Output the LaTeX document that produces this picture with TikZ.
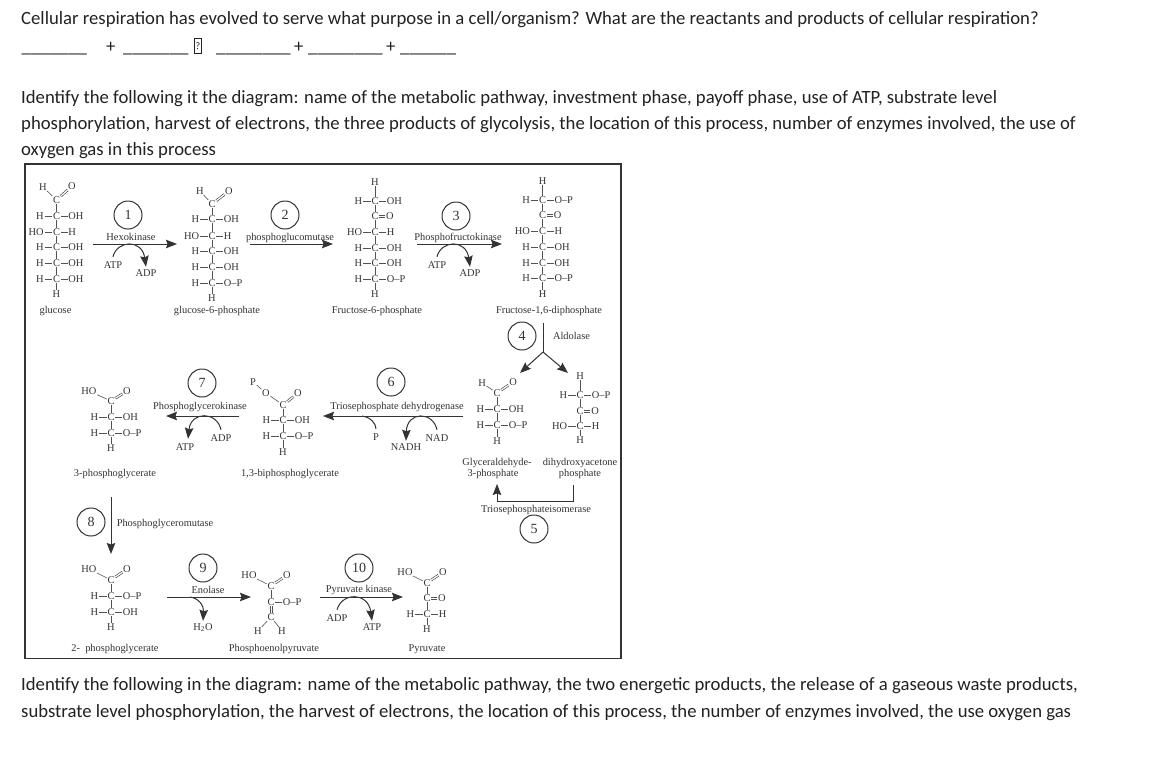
\documentclass[tikz,border=0pt]{standalone}
\usepackage{fontspec}
\setmainfont{Liberation Serif}
\newfontfamily\carl{Carlito}
\usetikzlibrary{arrows.meta}
\definecolor{ink}{HTML}{333333}
\definecolor{para}{HTML}{222222}
\tikzset{
  atom/.style={inner sep=0.6pt,text height=6.4pt,text depth=0pt,text=ink,font=\fontsize{10.4}{10.4}\selectfont},
  lab/.style={inner sep=0pt,text height=9pt,text depth=1pt,text=ink,font=\fontsize{10.4}{10.4}\selectfont},
  para/.style={anchor=west,inner sep=0pt,text height=14pt,text depth=2pt,text=para,font=\carl\fontsize{18.7}{18.7}\selectfont},
  stepno/.style={circle,draw=ink,line width=1pt,minimum size=28pt,inner sep=0pt,text=ink,font=\fontsize{14}{14}\selectfont},
  bond/.style={draw=ink!85,line width=0.6pt},
  dbond/.style={draw=ink,line width=0.6pt,double=white,double distance=1.3pt},
  main/.style={draw=ink,line width=1pt,-{Stealth[length=11pt,width=8.5pt,inset=1.5pt]}},
  plain/.style={draw=ink,line width=1pt},
  curv/.style={draw=ink,line width=1pt,-{Stealth[length=11pt,width=8.5pt,inset=1.5pt]}},
}
\newcommand\molrows[3]{%
  \foreach \yy/\ll/\rr [count=\i] in {#3} {
    \node[atom] (#1c\i) at (#2,\yy) {C};
    \if\relax\detokenize\expandafter{\ll}\relax\else
      \node[atom,anchor=east] (#1l\i) at (#2-12,\yy) {\ll};
      \draw[bond] (#1l\i) -- (#1c\i);
    \fi
    \if\relax\detokenize\expandafter{\rr}\relax\else
      \node[atom,anchor=west] (#1r\i) at (#2+11,\yy) {\rr};
      \draw[bond] (#1c\i) -- (#1r\i);
    \fi
    \ifnum\i>1
      \pgfmathtruncatemacro\pv{\i-1}
      \draw[bond] (#1c\pv) -- (#1c\i);
    \fi
  }}
% end atom on a bond: name, x, y, text, neighbour
\newcommand\tip[5]{\node[atom] (#1) at (#2,#3) {#4}; \draw[bond] (#5) -- (#1);}
% double-bonded oxygen, slanted
\newcommand\oxy[4]{\node[atom] (#1) at (#2,#3) {O}; \draw[dbond] (#4) -- (#1);}
% double-bonded oxygen, level with its carbon
\newcommand\oxyh[4]{\node[atom] (#1) at (#2,#3) {O};
  \draw[bond] ([yshift=1.1pt]#4.east) -- ([yshift=1.1pt]#1.west);
  \draw[bond] ([yshift=-1.1pt]#4.east) -- ([yshift=-1.1pt]#1.west);}
\newcommand\lab[4]{\node[lab] (#1) at (#2,#3) {#4};}
\newcommand\para[3]{\node[para] (#1) at (21,#2) {#3};}
\begin{document}
\begin{tikzpicture}[x=1pt,y=-1pt]
\useasboundingbox (0,0) rectangle (1162,772);
\fill[white] (0,0) rectangle (1162,772);

% question text
\para{t1}{18}{Cellular respiration has evolved to serve what purpose in a cell/organism? What are the reactants and products of cellular respiration?}
\para{t3}{97}{Identify the following it the diagram: name of the metabolic pathway, investment phase, payoff phase, use of ATP, substrate level}
\para{t4}{123}{phosphorylation, harvest of electrons, the three products of glycolysis, the location of this process, number of enzymes involved, the use of}
\para{t5}{149}{oxygen gas in this process}
\para{t6}{684}{Identify the following in the diagram: name of the metabolic pathway, the two energetic products, the release of a gaseous waste products,}
\para{t7}{711}{substrate level phosphorylation, the harvest of electrons, the location of this process, the number of enzymes involved, the use oxygen gas}

% blanks
\node[para] (b1) at (21.5,46) {\_\_\_\_\_\_\_};
\node[para] (p1) at (106,46) {+};
\node[para] (b2) at (123,46) {\_\_\_\_\_\_\_};
\node[draw=para,line width=0.6pt,inner sep=0.3pt,minimum width=7pt,minimum height=15pt,text=para,font=\carl\fontsize{10}{10}\selectfont] (qm) at (198,46) {?};
\node[para] (b3) at (216,46) {\_\_\_\_\_\_\_\_};
\node[para] (p2) at (294,46) {+};
\node[para] (b4) at (308,46) {\_\_\_\_\_\_\_\_};
\node[para] (p3) at (386,46) {+};
\node[para] (b5) at (400,46) {\_\_\_\_\_\_};

% frame
\draw[ink,line width=1.5pt] (25,164) rectangle (621,658.5);

% step circles
\node[stepno] (s1) at (128,215) {1};
\node[stepno] (s2) at (285,215) {2};
\node[stepno] (s3) at (456,216) {3};
\node[stepno] (s4) at (522,336) {4};
\node[stepno] (s5) at (534,529) {5};
\node[stepno] (s6) at (391,382) {6};
\node[stepno] (s7) at (202,383) {7};
\node[stepno] (s8) at (91,522) {8};
\node[stepno] (s9) at (203,568) {9};
\node[stepno] (s10) at (359,568) {10};

% glucose
\molrows{a}{56.5}{200//,216/H/OH,232/HO/H,247/H/OH,263/H/OH,279/H/OH}
\tip{aH}{56.5}{294}{H}{ac6}
\tip{aH2}{43}{187}{H}{ac1}
\oxy{aO}{72}{186}{ac1}
\lab{aN}{55.5}{309}{glucose}

% glucose-6-phosphate
\molrows{b}{212}{204//,219/H/OH,236/HO/H,251/H/OH,267/H/OH,283/H/O–P}
\tip{bH}{212}{298}{H}{bc6}
\tip{bH2}{200}{191}{H}{bc1}
\oxy{bO}{229}{191}{bc1}
\lab{bN}{217}{309}{glucose-6-phosphate}

% fructose-6-phosphate
\molrows{c}{375}{201/H/OH,216//,232/HO/H,248/H/OH,263/H/OH,279/H/O–P}
\tip{cH}{375}{182}{H}{cc1}
\tip{cH2}{375}{294}{H}{cc6}
\oxyh{cO}{390}{216}{cc2}
\lab{cN}{377}{309}{Fructose-6-phosphate}

% fructose-1,6-diphosphate
\molrows{d}{542.7}{200/H/O–P,215//,231/HO/H,247/H/OH,263/H/OH,278/H/O–P}
\tip{dH}{542.7}{181}{H}{dc1}
\tip{dH2}{542.7}{294}{H}{dc6}
\oxyh{dO}{557.7}{215}{dc2}
\lab{dN}{549}{309}{Fructose-1,6-diphosphate}

% glyceraldehyde-3-phosphate
\molrows{e}{497}{393//,409/H/OH,425/H/O–P}
\tip{eH}{497}{441}{H}{ec3}
\tip{eH2}{482}{383}{H}{ec1}
\oxy{eO}{513}{382}{ec1}
\lab{eN1}{497}{461}{Glyceraldehyde-}
\lab{eN2}{493}{472}{3-phosphate}

% dihydroxyacetone phosphate
\molrows{f}{580}{395/H/O–P,411//,426/HO/H}
\tip{fH}{580}{376}{H}{fc1}
\tip{fH2}{580}{440}{H}{fc3}
\oxyh{fO}{595}{411}{fc2}
\lab{fN1}{580}{461}{dihydroxyacetone}
\lab{fN2}{580}{472}{phosphate}

% 1,3-biphosphoglycerate
\molrows{g}{283}{405//,420/H/OH,436/H/O–P}
\tip{gH}{283}{452}{H}{gc3}
\node[atom] (gP) at (253,382) {P};
\tip{gO1}{266}{393}{O}{gP}
\draw[bond] (gO1) -- (gc1);
\oxy{gO}{298}{393}{gc1}
\lab{gN}{290}{472}{1,3-biphosphoglycerate}

% 3-phosphoglycerate
\molrows{h}{111}{401//,417/H/OH,433/H/O–P}
\tip{hH}{111}{448}{H}{hc3}
\tip{hHO}{89}{391}{HO}{hc1}
\oxy{hO}{127}{391}{hc1}
\lab{hN}{115}{472}{3-phosphoglycerate}

% 2-phosphoglycerate
\molrows{i}{111}{580//,596/H/O–P,612/H/OH}
\tip{iH}{111}{627}{H}{ic3}
\tip{iHO}{89}{569}{HO}{ic1}
\oxy{iO}{127}{569}{ic1}
\lab{iN}{115}{647}{2-\ \ phosphoglycerate}

% phosphoenolpyruvate
\molrows{j}{271}{586//,602//O–P}
\node[atom] (jc3) at (271,617) {C};
\draw[bond] ([xshift=-1.1pt]jc2.south) -- ([xshift=-1.1pt]jc3.north);
\draw[bond] ([xshift=1.1pt]jc2.south) -- ([xshift=1.1pt]jc3.north);
\tip{jH1}{258}{631}{H}{jc3}
\tip{jH2}{282}{631}{H}{jc3}
\tip{jHO}{249}{575}{HO}{jc1}
\oxy{jO}{287}{575}{jc1}
\lab{jN}{274}{647}{Phosphoenolpyruvate}

% pyruvate
\molrows{k}{427}{583//,598//,614/H/H}
\tip{kH}{427}{629}{H}{kc3}
\tip{kHO}{405}{572}{HO}{kc1}
\oxy{kO}{443}{572}{kc1}
\oxyh{kO2}{442}{598}{kc2}
\lab{kN}{427}{647}{Pyruvate}

% step 1
\coordinate (m1a) at (93,244); \coordinate (m1b) at (177,244);
\draw[main] (m1a) -- (m1b);
\lab{l1}{131}{236}{Hexokinase}
\lab{x1a}{113}{264}{ATP}
\lab{x1b}{146}{272}{ADP}
\draw[curv] ([yshift=2pt]x1a.north) .. controls (117,240) and (142,239) .. (x1b.north);

% step 2
\coordinate (m2a) at (250,244); \coordinate (m2b) at (333,244);
\draw[main] (m2a) -- (m2b);
\lab{l2}{290}{236}{phosphoglucomutase}

% step 3
\coordinate (m3a) at (417,244); \coordinate (m3b) at (502,244);
\draw[main] (m3a) -- (m3b);
\lab{l3}{458}{236}{Phosphofructokinase}
\lab{x3a}{437}{264}{ATP}
\lab{x3b}{470}{272}{ADP}
\draw[curv] ([yshift=2pt]x3a.north) .. controls (441,240) and (466,239) .. (x3b.north);

% step 4
\coordinate (m4a) at (543,323); \coordinate (m4b) at (543,352);
\coordinate (m4c) at (520,373); \coordinate (m4d) at (568,373);
\draw[plain] (m4a) -- (m4b);
\draw[main] (m4b) -- (m4c);
\draw[main] (m4b) -- (m4d);
\lab{l4}{571.5}{335}{Aldolase}

% step 5
\coordinate (m5a) at (573,485); \coordinate (m5b) at (497,484);
\draw[main] (m5a) |- (497,501) -- (m5b);
\lab{l5}{536}{508}{Triosephosphateisomerase}

% step 6
\coordinate (m6a) at (463,416); \coordinate (m6b) at (323,416);
\coordinate (m6c) at (362,416);
\draw[main] (m6a) -- (m6b);
\lab{l6}{397}{405}{Triosephosphate dehydrogenase}
\lab{x6a}{376}{436}{P}
\lab{x6b}{437}{437}{NAD}
\lab{x6c}{406}{446}{NADH}
\draw[plain] ([yshift=2pt]x6a.north) .. controls (376,423) and (370,417) .. (m6c);
\draw[curv] ([yshift=2pt]x6b.north) .. controls (433,411) and (407,411) .. (x6c.north);

% step 7
\coordinate (m7a) at (239,416); \coordinate (m7b) at (166,416);
\draw[main] (m7a) -- (m7b);
\lab{l7}{200}{405}{Phosphoglycerokinase}
\lab{x7a}{221}{437}{ADP}
\lab{x7b}{185}{446}{ATP}
\draw[curv] ([yshift=2pt]x7a.north) .. controls (217,411) and (191,411) .. ([xshift=3pt,yshift=2pt]x7b.north);

% step 8
\coordinate (m8a) at (111,497); \coordinate (m8b) at (111,554);
\draw[main] (m8a) -- (m8b);
\lab{l8}{165}{522}{Phosphoglyceromutase}

% step 9
\coordinate (m9a) at (167,597); \coordinate (m9b) at (251,597);
\coordinate (m9c) at (190,597);
\draw[main] (m9a) -- (m9b);
\lab{l9}{208}{589}{Enolase}
\lab{x9}{203}{626}{H\textsubscript{2}O}
\draw[curv] (m9c) .. controls (198,598) and (204,605) .. (x9.north);

% step 10
\coordinate (m10a) at (320,597); \coordinate (m10b) at (403,597);
\draw[main] (m10a) -- (m10b);
\lab{l10}{359}{588}{Pyruvate kinase}
\lab{x10a}{337}{617}{ADP}
\lab{x10b}{372}{626}{ATP}
\draw[curv] ([yshift=2pt]x10a.north) .. controls (342,592) and (368,592) .. (x10b.north);
\end{tikzpicture}
\end{document}
